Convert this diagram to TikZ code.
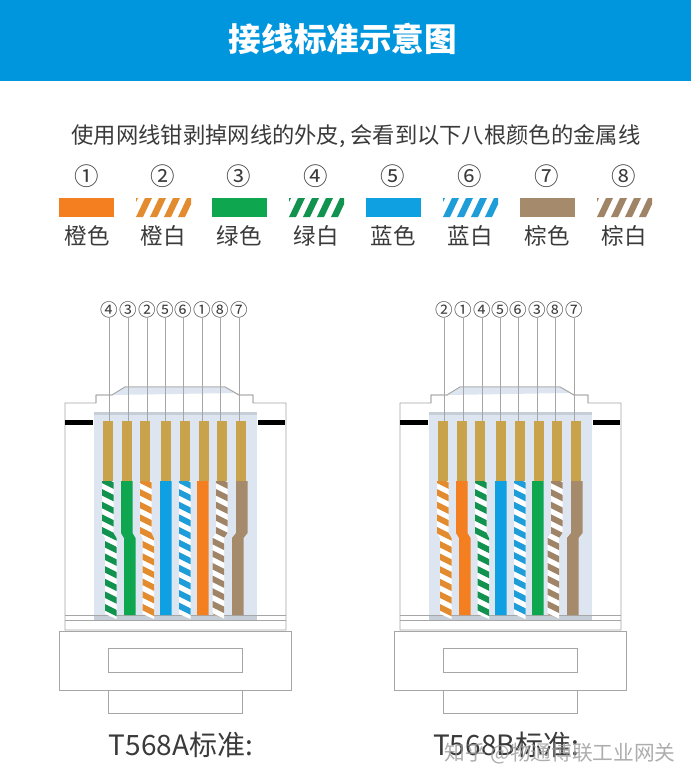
\documentclass[tikz,border=0pt]{standalone}
\usepackage{fontspec}
\setmainfont{Noto Sans CJK SC}
\definecolor{bandblue}{HTML}{0096DE}
\definecolor{txt}{HTML}{3A3A3A}
\definecolor{ln}{HTML}{A6A6A6}
\definecolor{panel}{HTML}{DDE6F0}
\definecolor{paneld}{HTML}{C6CED8}
\definecolor{gold}{HTML}{C9A34C}
\definecolor{wo}{HTML}{F47F20}
\definecolor{wg}{HTML}{0FA650}
\definecolor{wb}{HTML}{0FA0E2}
\definecolor{wn}{HTML}{A58A6B}
\definecolor{so}{HTML}{E38B2F}
\definecolor{sg}{HTML}{11924F}
\definecolor{sb}{HTML}{1E9DD8}
\definecolor{sn}{HTML}{A08468}
\tikzset{
  outline/.style={draw=ln,line width=0.8pt,fill=white},
  legendtxt/.style={text=txt,font=\fontsize{22.5}{22.5}\selectfont,inner sep=0pt},
  legendnum/.style={text=txt,font=\fontsize{24.5}{24.5}\selectfont,inner sep=0pt},
  pinnum/.style={text=txt,font=\fontsize{17.5}{17.5}\selectfont,inner sep=0pt},
  pinline/.style={draw=ln,line width=0.7pt},
  stdtxt/.style={text=txt,font=\fontsize{28}{28}\selectfont,inner sep=0pt},
  goldpin/.style={fill=gold,draw=none,minimum width=9.5pt,minimum height=60pt,inner sep=0pt}
}
% solid wire: #1 top-left x, #2 shift, #3 colour
\newcommand{\solidwire}[3]{%
  \fill[#3] (#1,481) -- (#1+11.5,481) -- (#1+11.5,533) -- (#1+11.5+#2,538) -- (#1+11.5+#2,615) -- (#1+#2,615) -- (#1+#2,538) -- (#1,533) -- cycle;}
% striped wire
\newcommand{\stripewire}[3]{%
  \begin{scope}
    \clip (#1,481) -- (#1+11.5,481) -- (#1+11.5,533) -- (#1+11.5+#2,538) -- (#1+11.5+#2,619) -- (#1+#2,614) -- (#1+#2,538) -- (#1,533) -- cycle;
    \fill[white] (#1-5,478) rectangle (#1+20,622);
    \foreach \k in {0,...,11}
      \fill[#3] (#1-5,{474+12.6*\k}) -- (#1+20,{486.5+12.6*\k}) -- (#1+20,{493+12.6*\k}) -- (#1-5,{480.5+12.6*\k}) -- cycle;
  \end{scope}}
% legend stripe swatch
\newcommand{\stripeswatch}[2]{%
  \begin{scope}
    \clip (#1,198) rectangle (#1+55,217);
    \foreach \k in {-1,...,4}
      \fill[#2] ({#1+14*\k},217) -- ({#1+7+14*\k},217) -- ({#1+16+14*\k},198) -- ({#1+9+14*\k},198) -- cycle;
  \end{scope}}
% connector body
\newcommand{\connector}{%
  \draw[outline] (65,630) -- (65,403) -- (96,403) -- (96,395) -- (112,395) -- (125,387) -- (225,387) -- (239,395) -- (253,395) -- (253,403) -- (286,403) -- (286,630) -- cycle;
  \fill[panel] (112,395) -- (125,387) -- (225,387) -- (234,393) -- cycle;
  \draw[ln,line width=0.8pt] (96,403) -- (96,395) -- (112,395) -- (125,387) -- (225,387) -- (239,395) -- (253,395) -- (253,403);
  \fill[panel] (94,412) rectangle (257,619);
  \fill[paneld] (94,412) rectangle (257,415);
  \fill[paneld] (94,615) rectangle (257,620);
  \fill[black] (65,420) rectangle (93,424.5);
  \fill[black] (258,420) rectangle (285,424.5);
  \draw[ln,line width=0.7pt] (65,615) -- (286,615);
  \draw[ln,line width=0.7pt] (65,620) -- (286,620);
  \draw[outline] (59,631) rectangle (291,690);
  \draw[outline] (108,648) rectangle (242,672);
  \draw[outline] (108,690) rectangle (242,713);
}
\begin{document}
\begin{tikzpicture}[x=1pt,y=-1pt]
\useasboundingbox (0,0) rectangle (691,782);
\fill[white] (0,0) rectangle (691,782);
\fill[bandblue] (0,0) rectangle (691,81);
\node[text=white,font=\fontsize{32.6}{32.6}\selectfont\bfseries,inner sep=0pt] (title) at (343,39) {接线标准示意图};
\node[text=txt,font=\fontsize{22.3}{22.3}\selectfont,inner sep=0pt] (intro) at (356,136) {使用网线钳剥掉网线的外皮, 会看到以下八根颜色的金属线};
% legend
\node[legendnum] (n1) at (87,176) {①};
\node[legendnum] (n2) at (163,176) {②};
\node[legendnum] (n3) at (239,176) {③};
\node[legendnum] (n4) at (316,176) {④};
\node[legendnum] (n5) at (393,176) {⑤};
\node[legendnum] (n6) at (470,176) {⑥};
\node[legendnum] (n7) at (547,176) {⑦};
\node[legendnum] (n8) at (624,176) {⑧};
\fill[wo] (59,198) rectangle (114,217);
\stripeswatch{136}{so}
\fill[wg] (212,198) rectangle (267,217);
\stripeswatch{289}{sg}
\fill[wb] (366,198) rectangle (421,217);
\stripeswatch{443}{sb}
\fill[wn] (520,198) rectangle (575,217);
\stripeswatch{597}{sn}
\node[legendtxt] (l1) at (87,236) {橙色};
\node[legendtxt] (l2) at (163,236) {橙白};
\node[legendtxt] (l3) at (239,236) {绿色};
\node[legendtxt] (l4) at (316,236) {绿白};
\node[legendtxt] (l5) at (393,236) {蓝色};
\node[legendtxt] (l6) at (470,236) {蓝白};
\node[legendtxt] (l7) at (547,236) {棕色};
\node[legendtxt] (l8) at (624,236) {棕白};
% T568A
\connector
\foreach \nm/\gx/\lx/\dg in {a/108/109/④,b/127/128/③,c/145/147/②,d/166/165/⑤,e/185/183/⑥,f/204/202/①,g/222/220/⑧,h/241/239/⑦}{
  \node[goldpin] (A\nm) at (\gx,451) {};
  \node[pinnum] (AL\nm) at (\lx,310) {\dg};
  \draw[pinline] (AL\nm.south) -- (AL\nm.south |- A\nm.north);
}
\stripewire{102}{3}{sg}
\solidwire{121}{3}{wg}
\stripewire{140}{2.5}{so}
\solidwire{160}{0}{wb}
\stripewire{179}{0}{sb}
\solidwire{197}{0}{wo}
\stripewire{216}{-3.5}{sn}
\solidwire{236}{-4}{wn}
\node[stdtxt] (ta) at (181,745) {T568A标准:};
% T568B
\begin{scope}[xshift=335pt]
\connector
\foreach \nm/\gx/\lx/\dg in {a/108/109/②,b/127/128/①,c/145/147/④,d/166/165/⑤,e/185/183/⑥,f/204/202/③,g/222/220/⑧,h/241/239/⑦}{
  \node[goldpin] (B\nm) at (\gx,451) {};
  \node[pinnum] (BL\nm) at (\lx,310) {\dg};
  \draw[pinline] (BL\nm.south) -- (BL\nm.south |- B\nm.north);
}
\stripewire{102}{3}{so}
\solidwire{121}{3}{wo}
\stripewire{140}{2.5}{sg}
\solidwire{160}{0}{wb}
\stripewire{179}{0}{sb}
\solidwire{197}{0}{wg}
\stripewire{216}{-3.5}{sn}
\solidwire{236}{-4}{wn}
\end{scope}
\node[stdtxt] (tb) at (506,745) {T568B标准:};
\node[text=black!40,opacity=0.8,font=\fontsize{20.7}{20.7}\selectfont,inner sep=0pt] (wm) at (560,754) {知乎 @物通博联工业网关};
\end{tikzpicture}
\end{document}
